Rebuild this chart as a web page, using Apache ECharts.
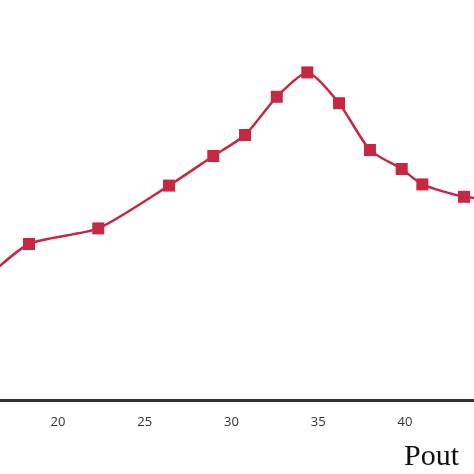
<!DOCTYPE html>
<html>
<head>
<meta charset="utf-8">
<script src="https://cdn.jsdelivr.net/npm/echarts@6/dist/echarts.min.js"></script>
<style>html,body{margin:0;padding:0;background:#fff}#c{width:474px;height:474px}</style>
</head>
<body>
<div id="c"></div>
<script>
var xValues = [15.5, 18.33, 22.32, 26.4, 28.95, 30.78, 32.61, 34.37, 36.2, 37.98, 39.81, 41.0, 43.4, 45.5];
var yValues = [29.0, 39.0, 42.9, 53.6, 61.0, 66.25, 75.8, 81.9, 74.2, 62.5, 57.75, 53.9, 50.8, 50.2];
var tickLabels = [20, 25, 30, 35, 40];
var xAxisName = 'Pout';

var chart = echarts.init(document.getElementById('c'), null, {renderer: 'canvas'});
var data = xValues.map(function (x, i) { return [x, yValues[i]]; });
chart.setOption({
  animation: false,
  grid: {left: 0, right: 0, top: 0, bottom: 74, containLabel: false},
  xAxis: {
    type: 'value', min: 16.657, max: 43.977,
    axisLine: {show: true, onZero: false, lineStyle: {color: '#333', width: 3}},
    axisTick: {show: false},
    splitLine: {show: false},
    axisLabel: {customValues: tickLabels, margin: 16, color: '#333', fontSize: 13, fontFamily: 'Open Sans'}
  },
  yAxis: {type: 'value', min: 0, max: 100, show: false, splitLine: {show: false}},
  series: [{
    type: 'line', data: data, smooth: 0.22, clip: true,
    symbol: 'rect', symbolSize: 12,
    lineStyle: {color: '#c62844', width: 2.5},
    itemStyle: {color: '#c62844'}
  }],
  graphic: [{
    type: 'text', left: 404, top: 442,
    style: {text: xAxisName, font: '30px "Liberation Serif"', fill: '#111'}
  }]
});
</script>
</body>
</html>
